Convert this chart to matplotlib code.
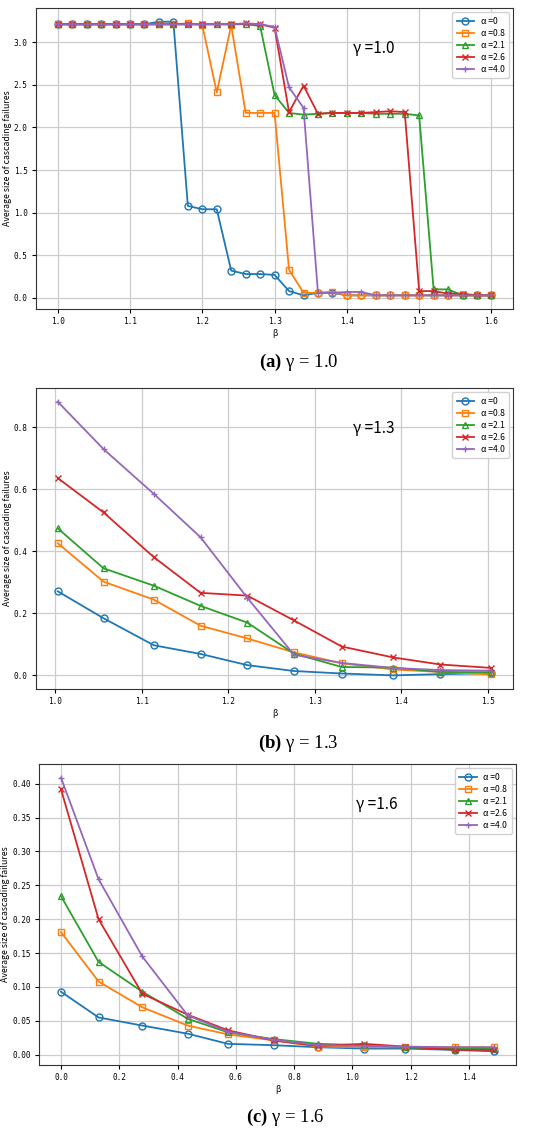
import matplotlib
matplotlib.use("Agg")
import matplotlib.pyplot as plt

plt.rcParams['font.family'] = ['Noto Sans CJK SC', 'DejaVu Sans']
plt.rcParams['mathtext.fontset'] = 'custom'
plt.rcParams['mathtext.bf'] = 'Liberation Serif:bold'
plt.rcParams['mathtext.rm'] = 'Liberation Serif'

labels = ["α =0", "α =0.8", "α =2.1", "α =2.6", "α =4.0"]
colors = ["#1f77b4", "#ff7f0e", "#2ca02c", "#d62728", "#9467bd"]
markers = ["o", "s", "^", "x", "+"]

# Panel (a) gamma = 1.0
x_a = [1.00, 1.02, 1.04, 1.06, 1.08, 1.10, 1.12, 1.14, 1.16, 1.18, 1.20, 1.22, 1.24, 1.26, 1.28,
       1.30, 1.32, 1.34, 1.36, 1.38, 1.40, 1.42, 1.44, 1.46, 1.48, 1.50, 1.52, 1.54, 1.56, 1.58, 1.60]
a_alpha0 = [3.21, 3.21, 3.21, 3.21, 3.21, 3.21, 3.21, 3.24, 3.24, 1.08, 1.04, 1.04, 0.32, 0.28, 0.28,
            0.27, 0.08, 0.03, 0.06, 0.06, 0.03, 0.03, 0.03, 0.03, 0.03, 0.03, 0.03, 0.03, 0.03, 0.03, 0.03]
a_alpha08 = [3.21, 3.21, 3.21, 3.21, 3.21, 3.21, 3.21, 3.21, 3.21, 3.22, 3.20, 2.41, 3.20, 2.17, 2.17,
             2.17, 0.33, 0.06, 0.06, 0.07, 0.03, 0.03, 0.03, 0.03, 0.03, 0.03, 0.03, 0.03, 0.03, 0.03, 0.03]
a_alpha21 = [3.21, 3.21, 3.21, 3.21, 3.21, 3.21, 3.21, 3.21, 3.21, 3.21, 3.21, 3.21, 3.21, 3.21, 3.19,
             2.38, 2.17, 2.15, 2.16, 2.17, 2.17, 2.17, 2.16, 2.16, 2.16, 2.14, 0.10, 0.10, 0.03, 0.03, 0.03]
a_alpha26 = [3.21, 3.21, 3.21, 3.21, 3.21, 3.21, 3.21, 3.21, 3.21, 3.21, 3.21, 3.21, 3.21, 3.22, 3.21,
             3.17, 2.18, 2.49, 2.16, 2.17, 2.17, 2.17, 2.18, 2.19, 2.18, 0.08, 0.08, 0.05, 0.05, 0.03, 0.03]
a_alpha40 = [3.21, 3.21, 3.21, 3.21, 3.21, 3.21, 3.21, 3.21, 3.21, 3.21, 3.21, 3.21, 3.21, 3.22, 3.21,
             3.18, 2.47, 2.23, 0.06, 0.06, 0.07, 0.07, 0.03, 0.03, 0.03, 0.03, 0.03, 0.03, 0.03, 0.03, 0.03]

# Panel (b) gamma = 1.3
x_b = [1.003, 1.056, 1.114, 1.168, 1.222, 1.276, 1.331, 1.390, 1.445, 1.504]
b_alpha0 = [0.271, 0.184, 0.097, 0.069, 0.033, 0.014, 0.006, 0.000, 0.004, 0.007]
b_alpha08 = [0.426, 0.302, 0.244, 0.160, 0.119, 0.074, 0.039, 0.019, 0.011, 0.003]
b_alpha21 = [0.474, 0.345, 0.289, 0.224, 0.170, 0.070, 0.027, 0.025, 0.011, 0.010]
b_alpha26 = [0.636, 0.525, 0.381, 0.266, 0.257, 0.177, 0.093, 0.058, 0.035, 0.024]
b_alpha40 = [0.882, 0.729, 0.585, 0.445, 0.250, 0.066, 0.040, 0.024, 0.017, 0.015]

# Panel (c) gamma = 1.6
x_c = [0.0, 0.129, 0.279, 0.435, 0.573, 0.730, 0.883, 1.040, 1.182, 1.354, 1.487]
c_alpha0 = [0.093, 0.055, 0.043, 0.031, 0.016, 0.014, 0.011, 0.009, 0.009, 0.007, 0.005]
c_alpha08 = [0.181, 0.108, 0.070, 0.043, 0.030, 0.021, 0.012, 0.011, 0.011, 0.011, 0.011]
c_alpha21 = [0.234, 0.137, 0.093, 0.053, 0.033, 0.023, 0.016, 0.014, 0.011, 0.009, 0.009]
c_alpha26 = [0.392, 0.200, 0.090, 0.059, 0.036, 0.021, 0.013, 0.016, 0.012, 0.007, 0.007]
c_alpha40 = [0.409, 0.259, 0.145, 0.058, 0.034, 0.022, 0.014, 0.013, 0.012, 0.011, 0.011]

panels = [
    (x_a, [a_alpha0, a_alpha08, a_alpha21, a_alpha26, a_alpha40], "γ =1.0", "(a)", "1.0",
     [0.0655, 0.727, 0.8675, 0.2659], 0.680, 0.543, -0.050),
    (x_b, [b_alpha0, b_alpha08, b_alpha21, b_alpha26, b_alpha40], "γ =1.3", "(b)", "1.3",
     [0.0655, 0.3913, 0.8675, 0.2659], 0.3436, 0.543, -0.050),
    (x_c, [c_alpha0, c_alpha08, c_alpha21, c_alpha26, c_alpha40], "γ =1.6", "(c)", "1.6",
     [0.0715, 0.0592, 0.8665, 0.2659], 0.0133, 0.518, -0.061),
]

fig = plt.figure(figsize=(5.5, 11.32), dpi=100)

for xs, series, ann, tag, gval, rect, cap_y, cap_x, ylab_x in panels:
    ax = fig.add_axes(rect)
    for ys, lab, col, mk in zip(series, labels, colors, markers):
        ax.plot(xs, ys, color=col, marker=mk, label=lab, linewidth=1.3,
                markersize=5, markerfacecolor='none', markeredgewidth=1.0)
    ax.grid(True, color='#cccccc', linewidth=0.9)
    ax.set_axisbelow(True)
    ax.tick_params(labelsize=5.6, length=3, width=0.8, pad=3)
    for lbl in ax.get_xticklabels() + ax.get_yticklabels():
        lbl.set_family('DejaVu Sans Mono')
    ax.set_xlabel("β", fontsize=6, labelpad=2)
    ax.set_ylabel("Average size of cascading failures", fontsize=6.3)
    ax.yaxis.set_label_coords(ylab_x, 0.5)
    ax.text(0.665, 0.865, ann, transform=ax.transAxes, fontsize=11, va='center', ha='left')
    ax.legend(loc='upper right', fontsize=6.2, handlelength=2.0, borderpad=0.5,
              labelspacing=0.35, fancybox=True, framealpha=0.9)
    for sp in ax.spines.values():
        sp.set_color('#333333')
    fig.text(cap_x, cap_y, r"$\mathbf{" + tag + "}$ γ = " + gval, ha='center', va='center',
             fontsize=13.5, family=['Liberation Serif', 'DejaVu Serif'])

fig.savefig("out.png", dpi=100)
